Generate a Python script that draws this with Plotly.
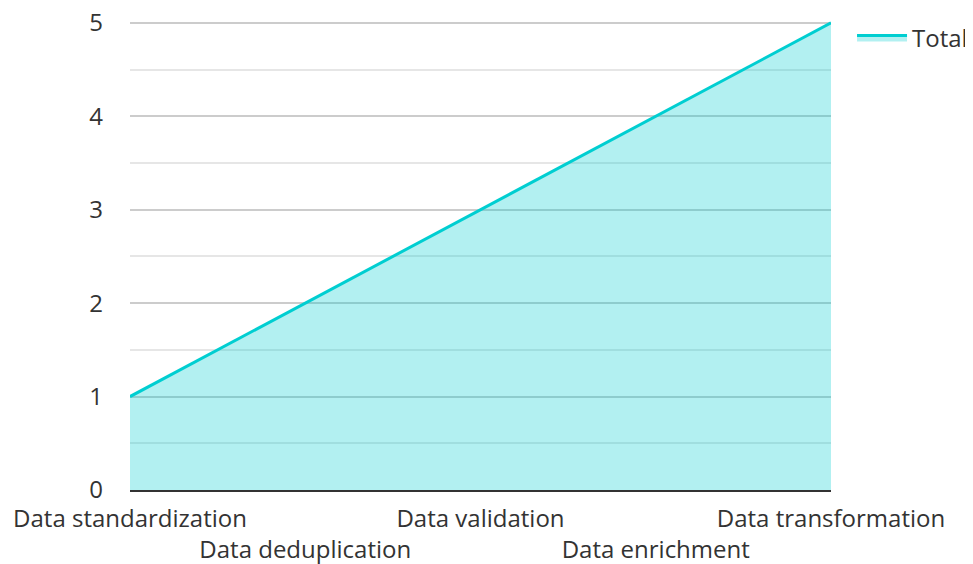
import plotly.graph_objects as go

categories = ["Data standardization", "Data deduplication", "Data validation",
              "Data enrichment", "Data transformation"]
total = [1, 2, 3, 4, 5]
tick_labels = ["Data standardization", "<br>Data deduplication", "Data validation",
               "<br>Data enrichment", "Data transformation"]
y_ticks = [0, 1, 2, 3, 4, 5]

fig = go.Figure()
fig.add_trace(go.Scatter(
    x=categories, y=total, name="Total", mode="lines",
    line=dict(color="#00CED1", width=3),
    fill="tozeroy", fillcolor="rgba(0,206,209,0.3)",
))

# page body has an 8px default margin; size the figure to fit the window
fig.update_layout(
    width=965, height=556,
    margin=dict(l=122, r=142, t=13, b=74, autoexpand=False),
    paper_bgcolor="white", plot_bgcolor="white",
    font=dict(family="Open Sans", size=24, color="#333333"),
    showlegend=True,
    legend=dict(x=1.03, xanchor="left", y=1.012, yanchor="top",
                font=dict(size=24, color="#333333"), itemwidth=50),
    xaxis=dict(type="category", range=[0, 4], tickmode="array",
               tickvals=categories, ticktext=tick_labels, tickangle=0,
               automargin=False,
               showgrid=False, showline=True, linecolor="#333333", linewidth=2,
               ticks="", ticklabelstandoff=6, zeroline=False),
    yaxis=dict(range=[0, 5.02], tickmode="array", tickvals=y_ticks, automargin=False,
               ticklabeloverflow="allow",
               showgrid=True, gridcolor="#cccccc", gridwidth=1.5,
               minor=dict(dtick=0.5, showgrid=True, gridcolor="#e6e6e6", gridwidth=1.5),
               zeroline=False, ticks="", ticklabelstandoff=26, showline=False),
)

fig.write_html("out.html")
